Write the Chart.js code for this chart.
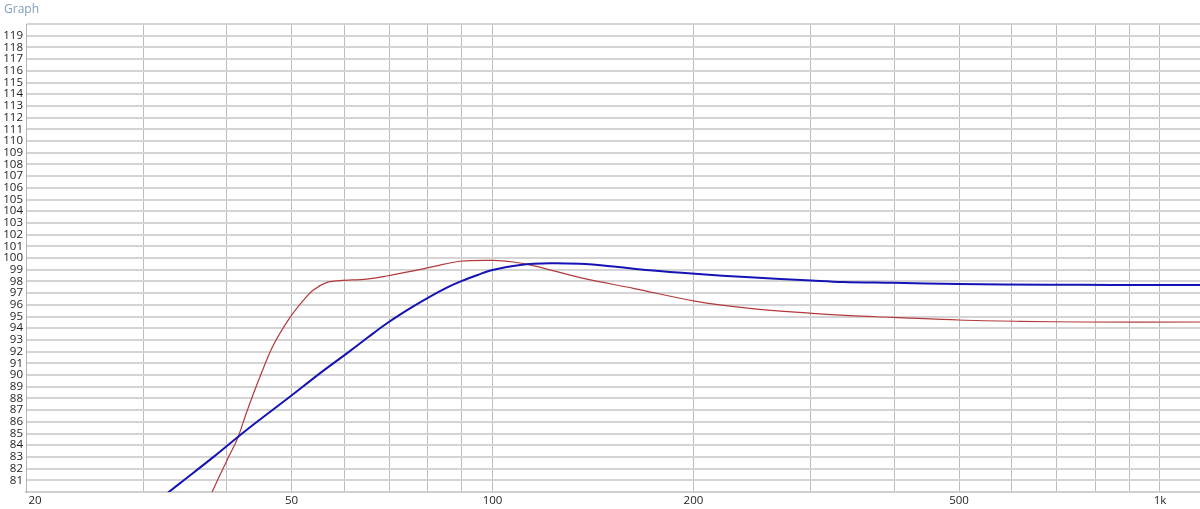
<!DOCTYPE html>
<html>
<head>
<meta charset="utf-8">
<script src="https://cdn.jsdelivr.net/npm/chart.js@4.4.0/dist/chart.umd.min.js"></script>
<style>
  html, body { margin: 0; padding: 0; background: #ffffff; overflow: hidden; }
  #wrap { width: 1200px; height: 509px; }
</style>
</head>
<body>
<div id="wrap"><canvas id="c" width="1200" height="509"></canvas></div>
<script>
// ---- Data ----
const titleText = "Graph";
const xTickValues = [20, 30, 40, 50, 60, 70, 80, 90, 100, 200, 300, 400, 500, 600, 700, 800, 900, 1000];
const xTickLabels = { 20: "      20", 50: "50", 100: "100", 200: "200", 500: "500", 1000: "1k" };
const xMin = 20, xMax = 1148;
const yMin = 80, yMax = 120;

const blueFreq = [30, 34, 38.2, 42.8, 49.7, 55, 60.5, 65, 69.4, 75, 80, 86, 90, 95, 100, 110, 122, 135, 150, 172, 201, 243, 300, 335, 398, 500, 677, 850, 1148];
const blueSpl  = [78.3, 80.74, 83.0, 85.3, 88.14, 90.1, 91.85, 93.2, 94.4, 95.65, 96.6, 97.55, 98.05, 98.55, 98.98, 99.4, 99.55, 99.5, 99.3, 98.95, 98.65, 98.35, 98.08, 97.95, 97.88, 97.78, 97.72, 97.7, 97.69];

const redFreq = [36, 38, 40, 41.5, 42.8, 44.8, 46.9, 49.7, 52.1, 53.9, 56.4, 59.1, 64.8, 69.4, 76.1, 81.5, 89.4, 100.3, 107.4, 115, 136.8, 162.6, 201, 243, 301, 343, 398, 500, 617, 767, 1148];
const redSpl  = [77.0, 80.0, 82.7, 84.6, 86.8, 89.8, 92.5, 94.9, 96.4, 97.27, 97.9, 98.06, 98.2, 98.46, 98.9, 99.26, 99.72, 99.8, 99.66, 99.35, 98.26, 97.41, 96.32, 95.7, 95.27, 95.07, 94.93, 94.7, 94.59, 94.53, 94.53];

// ---- Chart ----
const toXY = (xs, ys) => xs.map((x, i) => ({ x: x, y: ys[i] }));

Chart.defaults.font.family = "'Open Sans', 'Noto Sans', 'DejaVu Sans', sans-serif";
Chart.defaults.font.size = 11.5;
Chart.defaults.color = "#1e1e1e";

const titlePlugin = {
  id: "graphTitle",
  afterDraw(chart) {
    const ctx = chart.ctx;
    ctx.save();
    ctx.font = "12px 'Open Sans', 'Noto Sans', sans-serif";
    ctx.fillStyle = "#7f9dbf";
    ctx.textBaseline = "middle";
    ctx.textAlign = "left";
    ctx.fillText(titleText, 4, 10);
    ctx.restore();
  }
};

new Chart(document.getElementById("c"), {
  type: "line",
  data: {
    datasets: [
      {
        label: "blue",
        data: toXY(blueFreq, blueSpl),
        borderColor: "#1414b4",
        borderWidth: 2,
        pointRadius: 0,
        tension: 0.35,
        fill: false
      },
      {
        label: "red",
        data: toXY(redFreq, redSpl),
        borderColor: "#b23a3a",
        borderWidth: 1.2,
        pointRadius: 0,
        tension: 0.35,
        fill: false
      }
    ]
  },
  options: {
    responsive: false,
    animation: false,
    events: [],
    layout: { padding: { top: 24, left: 0, right: 0, bottom: 0 } },
    plugins: { legend: { display: false }, title: { display: false }, tooltip: { enabled: false } },
    scales: {
      x: {
        type: "logarithmic",
        min: xMin,
        max: xMax,
        afterBuildTicks(scale) {
          scale.ticks = xTickValues.map(v => ({ value: v }));
        },
        afterFit(scale) { scale.height = 17; },
        ticks: {
          autoSkip: false,
          maxRotation: 0,
          minRotation: 0,
          padding: 2,
          callback(value) { return xTickLabels[value] !== undefined ? xTickLabels[value] : ""; }
        },
        grid: { color: "#bdbdbd", lineWidth: 1, drawTicks: false },
        border: { display: true, color: "#cfcfcf", width: 2 }
      },
      y: {
        type: "linear",
        min: yMin,
        max: yMax,
        afterFit(scale) { scale.width = 26; },
        ticks: {
          stepSize: 1,
          autoSkip: false,
          padding: 3,
          callback(value) { return (value === yMin || value === yMax) ? "" : String(value); }
        },
        grid: { color: "#d4d4d4", lineWidth: 2, drawTicks: false },
        border: { display: true, color: "#b4b4b4", width: 1 }
      }
    }
  },
  plugins: [titlePlugin]
});
</script>
</body>
</html>
